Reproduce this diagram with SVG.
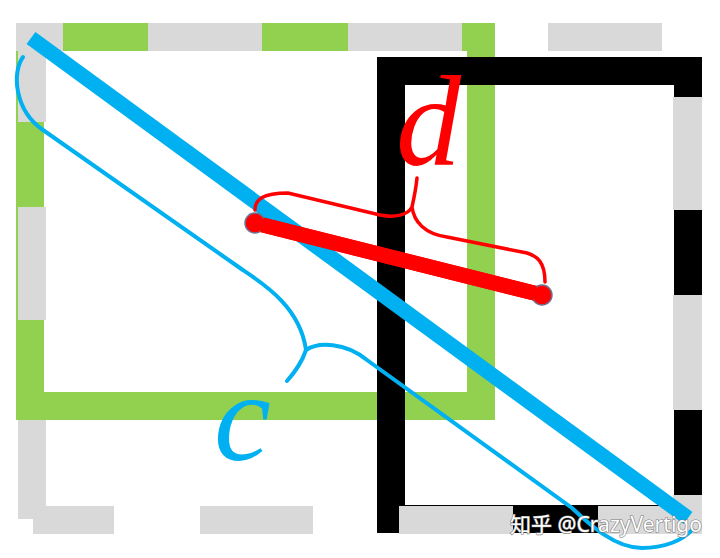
<svg xmlns="http://www.w3.org/2000/svg" width="720" height="558" viewBox="0 0 720 558">
<style>
.gray{fill:#d9d9d9}
.blue{stroke:#00b0f0;fill:none}
.red{stroke:#ff0000;fill:none}
.lbl{font-family:"Liberation Serif","DejaVu Serif",serif;font-style:italic}
.wm{font-family:"Noto Sans","Noto Sans CJK SC",sans-serif;font-size:21px;fill:#ffffff;stroke:#7a7a7a;stroke-width:1.2;paint-order:stroke}
</style>
<rect width="720" height="558" fill="#ffffff"/>
<g id="box-green">
<rect x="30" y="37" width="451" height="369" fill="none" stroke="#92d050" stroke-width="28"/>
</g>
<g id="box-black">
<rect x="391" y="71" width="297" height="448" fill="none" stroke="#000000" stroke-width="28"/>
</g>
<g id="box-union">
<rect class="gray" x="16" y="23" width="47" height="28"/>
<rect class="gray" x="148" y="23" width="114" height="28"/>
<rect class="gray" x="348" y="23" width="114" height="28"/>
<rect class="gray" x="548" y="23" width="114" height="28"/>
<rect class="gray" x="18" y="23" width="28" height="99"/>
<rect class="gray" x="18" y="207" width="28" height="113"/>
<rect class="gray" x="18" y="420" width="28" height="99"/>
<rect class="gray" x="33" y="506" width="81" height="28"/>
<rect class="gray" x="200" y="506" width="113" height="28"/>
<rect class="gray" x="399" y="506" width="114" height="28"/>
<rect class="gray" x="598" y="506" width="104" height="28"/>
<rect class="gray" x="673" y="97" width="29" height="113"/>
<rect class="gray" x="673" y="295" width="29" height="115"/>
<rect class="gray" x="673" y="495" width="29" height="39"/>
</g>
<g id="connectors">
<g id="line-c">
<line class="blue" x1="31" y1="38" x2="688" y2="518" stroke-width="15"/>
<path class="blue" stroke-width="4" stroke-linecap="round" d="M23,57 C12,72 14,110 43,130 L240,268 C262,283 300,306 306,350 M306,350 C302,362 295,372 287,381 M306,350 C318,342 345,342 367,360 L572,508 C590,525 615,548 642,548 C665,548 683,540 692,530"/>
</g>
<g id="line-d">
<line x1="255" y1="223" x2="542" y2="295" stroke="#ff0000" stroke-width="15"/>
<circle cx="255" cy="223" r="10" fill="#ff0000" stroke="#6f6f8f" stroke-width="1.5"/>
<circle cx="542" cy="295" r="10" fill="#ff0000" stroke="#6f6f8f" stroke-width="1.5"/>
<line x1="262" y1="224.8" x2="535" y2="293.2" stroke="#ff0000" stroke-width="15"/>
<path class="red" stroke-width="3.5" stroke-linecap="round" d="M255,210 C255,200 262,193 288,193 L380,215 C395,218 408,215 412,207 M412,207 C414,198 416,188 417,178 M412,207 C414,222 425,234 447,237 L527,253 C537,256 545,262 545,282"/>
</g>
</g>
<g id="labels">
<text class="lbl" x="396" y="165" font-size="130" fill="#ff0000">d</text>
<text class="lbl" x="214" y="460" font-size="128" fill="#00b0f0">c</text>
</g>
<g id="watermark">
<text class="wm" x="510" y="532" textLength="192" lengthAdjust="spacingAndGlyphs">知乎 @CrazyVertigo</text>
</g>
</svg>
